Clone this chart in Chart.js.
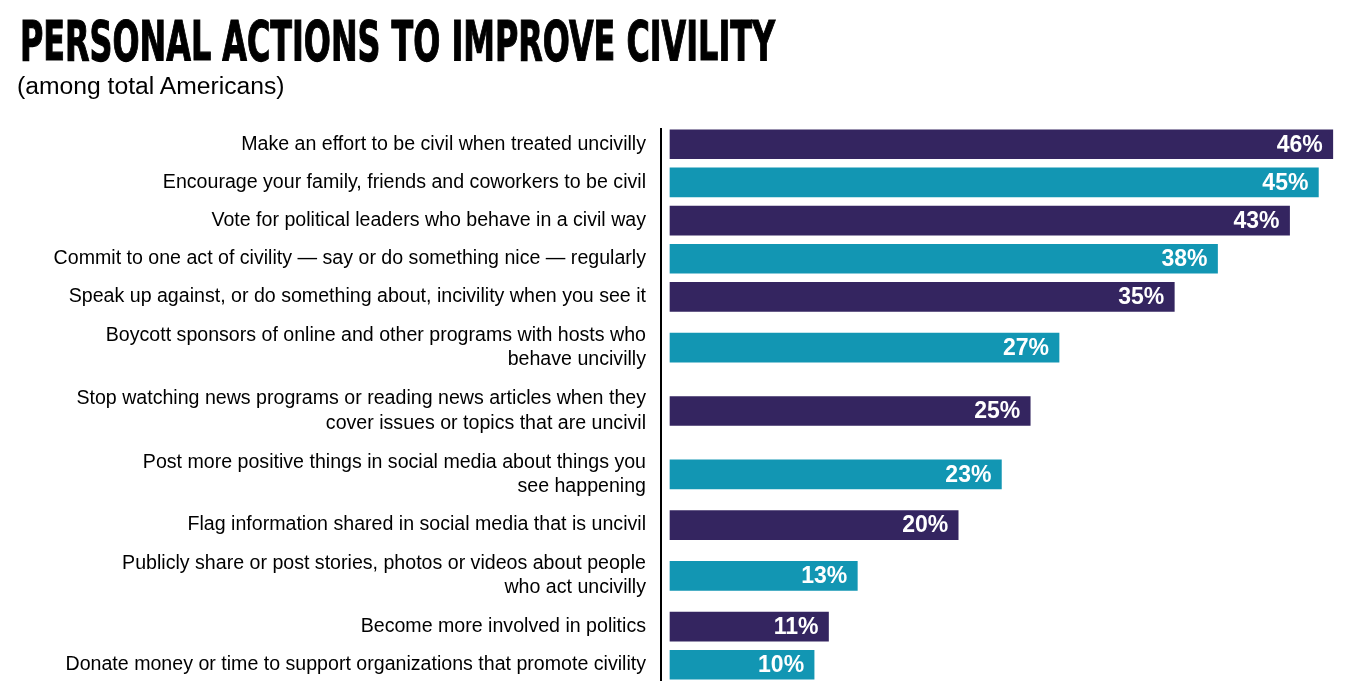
<!DOCTYPE html>
<html><head><meta charset="utf-8">
<script src="https://cdn.jsdelivr.net/npm/chart.js@4.4.1/dist/chart.umd.min.js"></script>
<style>
html,body{margin:0;padding:0;background:#fff;}
#wrap{position:relative;width:1345px;height:689px;overflow:hidden;background:#fff;}
#title{position:absolute;left:20px;top:13px;font-family:"Liberation Sans Narrow","DejaVu Sans Condensed","Liberation Sans",sans-serif;font-weight:700;font-size:56px;line-height:1;white-space:nowrap;transform-origin:0 0;color:#000;-webkit-text-stroke:1.2px #000;}
#sub{position:absolute;left:17px;top:74px;font-family:"Liberation Sans",Arial,sans-serif;font-size:24.7px;line-height:1;white-space:nowrap;color:#000;}
canvas{position:absolute;left:0;top:0;}
</style></head>
<body><div id="wrap"><canvas id="c" width="1345" height="689"></canvas><div id="title">PERSONAL ACTIONS TO IMPROVE CIVILITY</div><div id="sub">(among total Americans)</div></div>
<script>
const categories = [
  ["Make an effort to be civil when treated uncivilly"],
  ["Encourage your family, friends and coworkers to be civil"],
  ["Vote for political leaders who behave in a civil way"],
  ["Commit to one act of civility \u2014 say or do something nice \u2014 regularly"],
  ["Speak up against, or do something about, incivility when you see it"],
  ["Boycott sponsors of online and other programs with hosts who", "behave uncivilly"],
  ["Stop watching news programs or reading news articles when they", "cover issues or topics that are uncivil"],
  ["Post more positive things in social media about things you", "see happening"],
  ["Flag information shared in social media that is uncivil"],
  ["Publicly share or post stories, photos or videos about people", "who act uncivilly"],
  ["Become more involved in politics"],
  ["Donate money or time to support organizations that promote civility"]
];
const values = [46, 45, 43, 38, 35, 27, 25, 23, 20, 13, 11, 10];
const valueLabels = ["46%", "45%", "43%", "38%", "35%", "27%", "25%", "23%", "20%", "13%", "11%", "10%"];

// fit title width
const t = document.getElementById('title');
const tw = t.getBoundingClientRect().width;
t.style.transform = 'scaleX(' + (755 / tw) + ')';

// row layout: two-line labels take more vertical room
const PURPLE = '#342560', TEAL = '#1296b3';
const rowH = categories.map(l => l.length > 1 ? 1.66 : 1);
const pos = [];
rowH.forEach((h, i) => pos.push(i === 0 ? 0 : pos[i - 1] + (rowH[i - 1] + h) / 2));

const labelPlugin = {
  id: 'valueLabels',
  afterDatasetsDraw(chart) {
    const ctx = chart.ctx;
    const meta = chart.getDatasetMeta(0);
    ctx.save();
    ctx.fillStyle = '#fff';
    ctx.font = 'bold 23px "Liberation Sans", Arial, sans-serif';
    ctx.textAlign = 'right';
    ctx.textBaseline = 'middle';
    meta.data.forEach((b, i) => ctx.fillText(valueLabels[i], b.x - 10, b.y + 1));
    ctx.restore();
  }
};

new Chart(document.getElementById('c'), {
  type: 'bar',
  data: {
    datasets: [{
      data: values.map((v, i) => ({ x: v, y: pos[i] })),
      backgroundColor: values.map((v, i) => i % 2 ? TEAL : PURPLE),
      barThickness: 29,
      borderWidth: 0
    }]
  },
  options: {
    indexAxis: 'y',
    responsive: false,
    animation: false,
    layout: { padding: { top: 129, bottom: 9, left: 0, right: 5 } },
    plugins: { legend: { display: false }, tooltip: { enabled: false }, title: { display: false } },
    scales: {
      x: { type: 'linear', min: -0.625, max: 46.5, display: false },
      y: {
        type: 'linear', reverse: true, offset: false,
        min: -0.4, max: pos[pos.length - 1] + 0.4,
        afterFit(s) { s.width = 661; s.paddingTop = 0; s.paddingBottom = 0; },
        afterBuildTicks(s) { s.ticks = pos.map(v => ({ value: v })); },
        grid: { display: false, drawTicks: false, offset: false },
        border: { display: true, color: '#000', width: 2 },
        ticks: {
          autoSkip: false, padding: 15, color: '#000',
          font: { family: '"Liberation Sans", Arial, sans-serif', size: 19.6, lineHeight: 1.24 },
          callback: (v) => { const i = pos.indexOf(v); return i >= 0 ? categories[i] : ''; }
        }
      }
    }
  },
  plugins: [labelPlugin]
});
</script>
</body></html>
